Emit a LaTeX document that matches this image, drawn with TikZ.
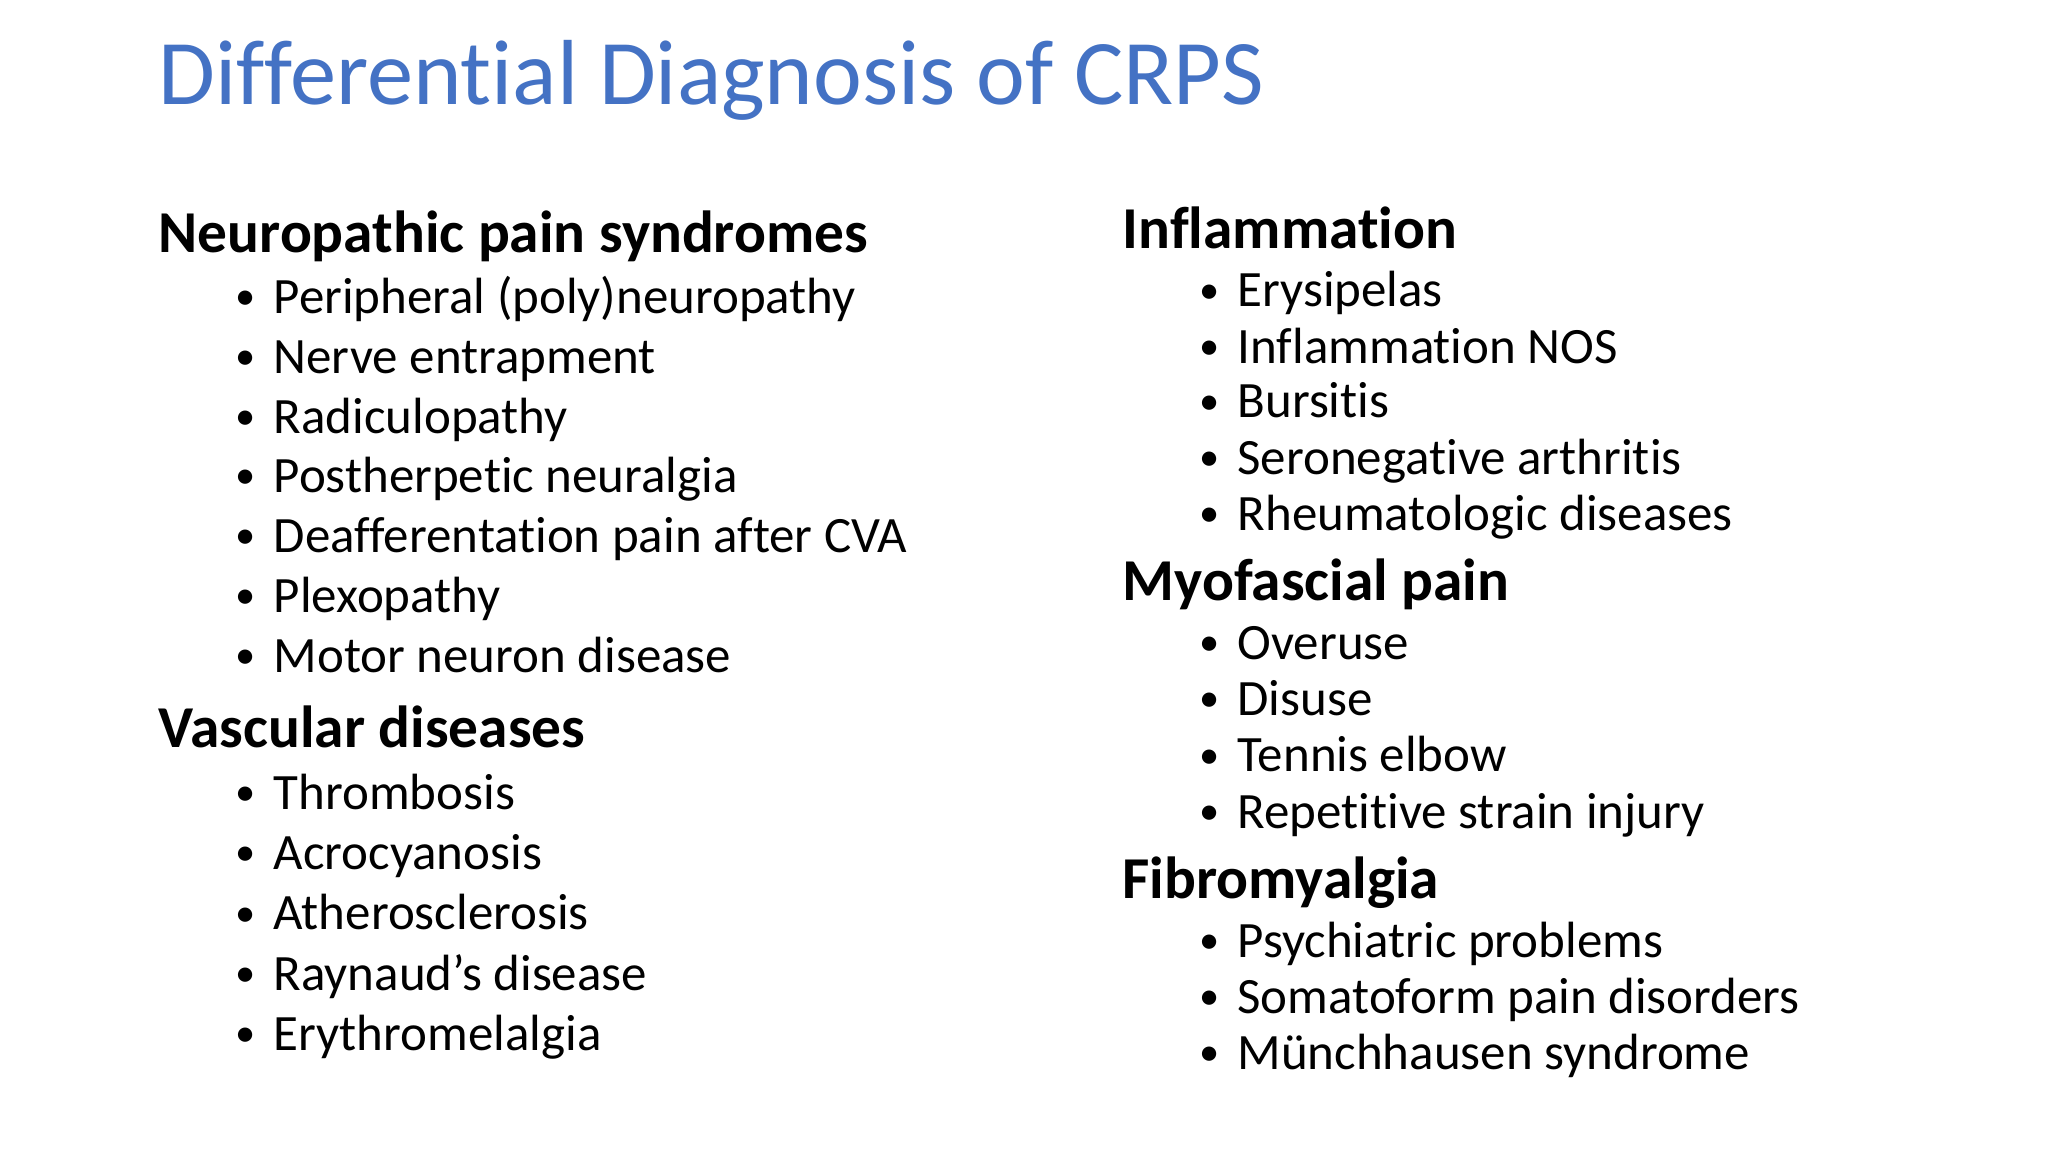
\documentclass[tikz,border=0pt]{standalone}
\usepackage{fontspec}
\setmainfont{Carlito}[Ligatures={NoCommon}]
\usetikzlibrary{positioning}
\definecolor{titleblue}{RGB}{68,114,196}

\begin{document}
\begin{tikzpicture}[x=0.01306cm,y=-0.01306cm,
title/.style={anchor=base west,inner sep=0pt,text=titleblue,font=\fontsize{26.3}{30}\selectfont},
head/.style={anchor=base west,inner sep=0pt,font=\fontsize{16.9}{20}\selectfont\bfseries},
item/.style={anchor=base west,inner sep=0pt,font=\fontsize{14.5}{18}\selectfont},
dot/.style={anchor=base west,inner sep=0pt,font=\fontsize{11.5}{14}\selectfont}]
\useasboundingbox[fill=white] (0,0) rectangle (1568,882);
\node (title) [title] at (121,80) {Differential Diagnosis of CRPS};
% left column
\node (neuro) [head] at (121,193) {Neuropathic pain syndromes};
\foreach \t/\y [count=\i] in {Peripheral (poly)neuropathy/240,Nerve entrapment/286,
    Radiculopathy/332,Postherpetic neuralgia/377,Deafferentation pain after CVA/423,
    Plexopathy/469,Motor neuron disease/515}
  {\node (neurodot\i) [dot] at (180,\y-3) {•};
   \node (neuro\i) [item] at (209,\y) {\t};}
\node (vasc) [head] at (121,572) {Vascular diseases};
\foreach \t/\y [count=\i] in {Thrombosis/620,Acrocyanosis/666,Atherosclerosis/712,
    Raynaud’s disease/758,Erythromelalgia/804}
  {\node (vascdot\i) [dot] at (180,\y-3) {•};
   \node (vasc\i) [item] at (209,\y) {\t};}
% right column
\node (infl) [head] at (859,190) {Inflammation};
\foreach \t/\y [count=\i] in {Erysipelas/235,Inflammation NOS/278,Bursitis/320,
    Seronegative arthritis/363,Rheumatologic diseases/406}
  {\node (infldot\i) [dot] at (918,\y-3) {•};
   \node (infl\i) [item] at (947,\y) {\t};}
\node (myo) [head] at (859,460) {Myofascial pain};
\foreach \t/\y [count=\i] in {Overuse/505,Disuse/548,Tennis elbow/591,
    Repetitive strain injury/634}
  {\node (myodot\i) [dot] at (918,\y-3) {•};
   \node (myo\i) [item] at (947,\y) {\t};}
\node (fibro) [head] at (859,688) {Fibromyalgia};
\foreach \t/\y [count=\i] in {Psychiatric problems/733,Somatoform pain disorders/776,
    Münchhausen syndrome/819}
  {\node (fibrodot\i) [dot] at (918,\y-3) {•};
   \node (fibro\i) [item] at (947,\y) {\t};}
\end{tikzpicture}
\end{document}
